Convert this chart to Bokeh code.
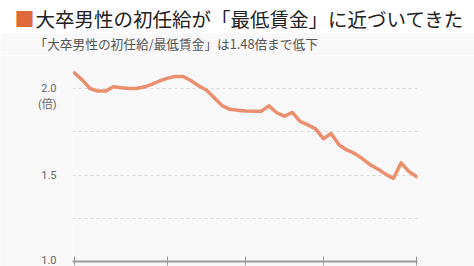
from bokeh.plotting import figure
from bokeh.layouts import column
from bokeh.models import FixedTicker, Label, Range1d, BoxAnnotation
from bokeh.embed import file_html
from bokeh.resources import INLINE

title_text = "大卒男性の初任給が「最低賃金」に近づいてきた"
subtitle_text = "「大卒男性の初任給/最低賃金」は1.48倍まで低下"
unit_label = "(倍)"

years = list(range(1978, 2023))
ratio = [2.09, 2.05, 2.00, 1.985, 1.985, 2.01, 2.005, 2.00, 2.00, 2.01,
         2.025, 2.045, 2.06, 2.07, 2.07, 2.045, 2.015, 1.99, 1.945, 1.90,
         1.88, 1.875, 1.87, 1.868, 1.868, 1.90, 1.86, 1.84, 1.862, 1.81,
         1.79, 1.767, 1.71, 1.74, 1.675, 1.645, 1.625, 1.595, 1.56, 1.535,
         1.505, 1.48, 1.57, 1.52, 1.49]

y_ticks = [1.0, 1.5, 2.0]
y_tick_labels = ["1.0", "1.5", "2.0"]
unit_pos = 1.91
grid_ticks = [1.25, 1.5, 1.75, 2.0]
x_ticks = [1978, 1990, 2000, 2010, 2022]

W = 474
BG = "#F8F8F8"

# ---- header figure (title + subtitle), pixel-like coordinates ----
HH = 55
top = figure(width=W, height=HH, output_backend="svg", toolbar_location=None,
             x_range=Range1d(0, W), y_range=Range1d(HH, 0),
             x_axis_type=None, y_axis_type=None,
             min_border=0, min_border_left=0, min_border_right=0,
             min_border_top=0, min_border_bottom=0, frame_align=False)
top.background_fill_color = "#FFFFFF"
top.border_fill_color = "#FFFFFF"
top.outline_line_color = None
top.grid.visible = False
top.add_layout(BoxAnnotation(top=33, bottom=HH, left=0, right=W,
                             fill_color=BG, fill_alpha=1, line_color=None))
top.add_layout(Label(x=14, y=18, text="■", text_color="#E0693A",
                     text_font="Noto Sans CJK JP", text_font_size="20px",
                     text_baseline="middle", text_align="left"))
top.add_layout(Label(x=35, y=18, text=title_text, text_color="#222222",
                     text_font="Noto Sans CJK JP", text_font_size="19.5px",
                     text_baseline="middle", text_align="left"))
top.add_layout(Label(x=34, y=43, text=subtitle_text, text_color="#555555",
                     text_font="Noto Sans CJK JP", text_font_size="12.7px",
                     text_baseline="middle", text_align="left"))

# ---- chart figure ----
CH = 266 - HH
FL, FR = 72, 417
p = figure(width=W, height=CH, output_backend="svg", toolbar_location=None,
           x_range=Range1d(1977.75, 2022.1), y_range=Range1d(1.0, 2.162),
           min_border_left=FL, min_border_right=W - FR, min_border_top=5,
           min_border_bottom=5, frame_align=False)
p.background_fill_color = BG
p.border_fill_color = BG
p.outline_line_color = None

p.line(years, ratio, line_color="#E8906F", line_width=3.5,
       line_join="round", line_cap="round")

p.xgrid.visible = False
p.ygrid.ticker = FixedTicker(ticks=grid_ticks)
p.ygrid.grid_line_color = "#D8D8D8"
p.ygrid.grid_line_dash = "3 3"
p.ygrid.grid_line_width = 1

ya = p.yaxis[0]
ya.ticker = FixedTicker(ticks=y_ticks + [unit_pos])
overrides = {t: s for t, s in zip(y_ticks, y_tick_labels)}
overrides[unit_pos] = unit_label
ya.major_label_overrides = overrides
ya.axis_line_color = None
ya.major_tick_line_color = None
ya.minor_tick_line_color = None
ya.major_label_text_font = "Roboto, 'Noto Sans CJK JP'"
ya.major_label_text_font_size = "11px"
ya.major_label_text_color = "#666666"
ya.major_label_standoff = 10

xa = p.xaxis[0]
xa.ticker = FixedTicker(ticks=x_ticks)
xa.axis_line_color = "#999999"
xa.axis_line_width = 2
xa.major_tick_line_color = "#999999"
xa.major_tick_line_width = 1
xa.major_tick_in = 5
xa.major_tick_out = 4
xa.minor_tick_line_color = None
xa.major_label_overrides = {t: "" for t in x_ticks}
xa.major_label_text_font_size = "1px"
xa.major_label_standoff = 0

layout = column(top, p, spacing=0)
open("out.html", "w").write(file_html(layout, INLINE))
